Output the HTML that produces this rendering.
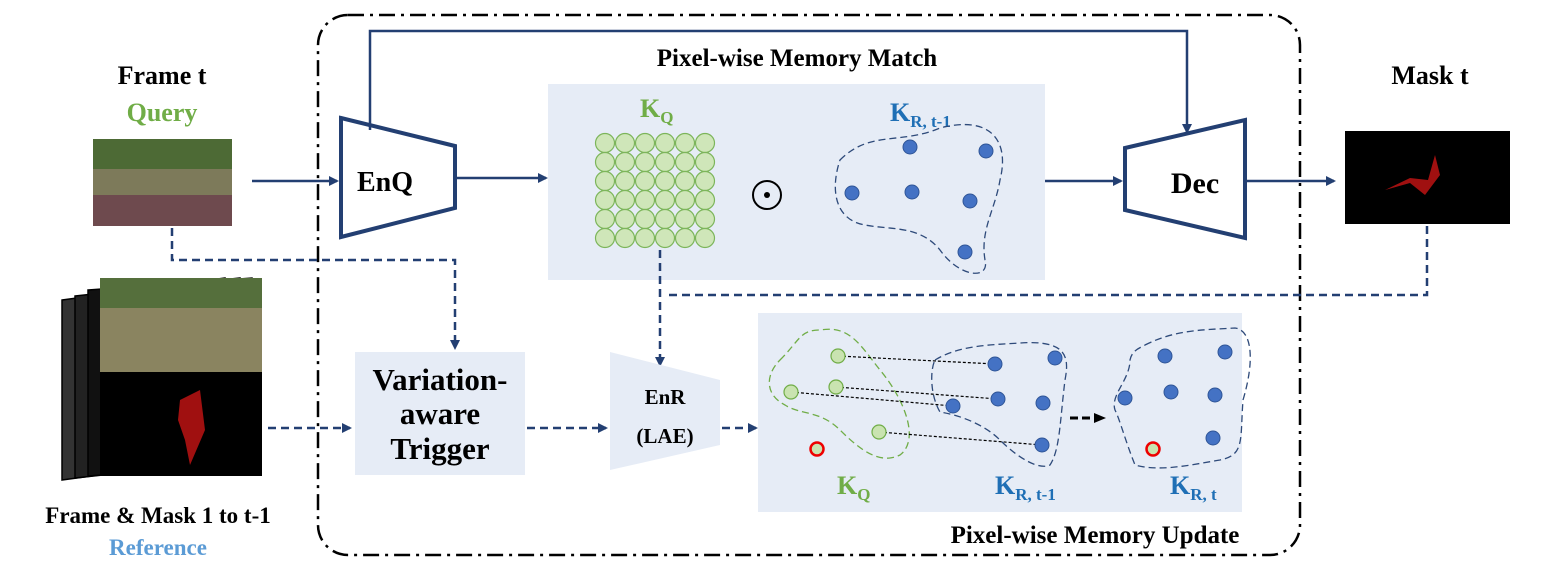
<!DOCTYPE html>
<html><head><meta charset="utf-8"><style>
body{margin:0;background:#fff}
text{font-family:"Liberation Serif",serif;font-weight:bold}
</style></head><body>
<svg width="1555" height="578" viewBox="0 0 1555 578" xmlns="http://www.w3.org/2000/svg">
<defs>
<marker id="a" markerWidth="10" markerHeight="10" refX="8" refY="5" orient="auto" markerUnits="userSpaceOnUse"><path d="M0,0 L10,5 L0,10 Z" fill="#233f72"/></marker>
<marker id="b" markerWidth="12" markerHeight="10" refX="10" refY="5" orient="auto" markerUnits="userSpaceOnUse"><path d="M0,0 L12,5 L0,10 Z" fill="#000"/></marker>
</defs>
<rect x="318" y="15" width="982" height="540" rx="30" fill="none" stroke="#000" stroke-width="2.5" stroke-dasharray="16,6,3,6"/>
<rect x="548" y="84" width="497" height="196" fill="#e6ecf6"/>
<text x="797" y="66" font-size="25" text-anchor="middle">Pixel-wise Memory Match</text>
<text x="640" y="117" font-size="26" fill="#70ad47">K<tspan font-size="17" dy="6">Q</tspan></text>
<circle cx="767" cy="195" r="14" fill="none" stroke="#000" stroke-width="2"/>
<circle cx="767" cy="195" r="3" fill="#000"/>
<text x="890" y="121" font-size="26" fill="#1f6fb5">K<tspan font-size="17" dy="6">R, t-1</tspan></text>
<path d="M840,160 C870,130 900,145 940,128 C990,115 1010,140 1000,180 C995,210 980,230 985,260 C990,280 960,278 940,250 C920,225 890,230 865,225 C835,220 830,190 840,160 Z" fill="none" stroke="#2e4a7a" stroke-width="1.3" stroke-dasharray="7,4"/>
<g fill="#4472c4" stroke="#2f5597" stroke-width="1">
<circle cx="910" cy="147" r="7"/><circle cx="986" cy="151" r="7"/><circle cx="852" cy="193" r="7"/><circle cx="912" cy="192" r="7"/><circle cx="970" cy="201" r="7"/><circle cx="965" cy="252" r="7"/>
</g>
<path d="M341,118 L455,146 L455,208 L341,237 Z" fill="#fff" stroke="#233f72" stroke-width="4"/>
<text x="385" y="191" font-size="28" text-anchor="middle">EnQ</text>
<path d="M1125,148 L1245,120 L1245,238 L1125,210 Z" fill="#fff" stroke="#233f72" stroke-width="4"/>
<text x="1195" y="193" font-size="30" text-anchor="middle">Dec</text>
<g stroke="#233f72" stroke-width="2.5" fill="none">
<polyline points="370,130 370,31 1187,31 1187,132" marker-end="url(#a)"/>
<line x1="252" y1="181" x2="337" y2="181" marker-end="url(#a)"/>
<line x1="457" y1="178" x2="546" y2="178" marker-end="url(#a)"/>
<line x1="1045" y1="181" x2="1121" y2="181" marker-end="url(#a)"/>
<line x1="1247" y1="181" x2="1334" y2="181" marker-end="url(#a)"/>
</g>
<g stroke="#233f72" stroke-width="2.5" fill="none" stroke-dasharray="8,5">
<polyline points="172,228 172,260 455,260 455,348" marker-end="url(#a)"/>
<polyline points="1427,226 1427,295 667,295"/>
<polyline points="660,250 660,365" marker-end="url(#a)"/>
<line x1="268" y1="428" x2="350" y2="428" marker-end="url(#a)"/>
<line x1="527" y1="428" x2="606" y2="428" marker-end="url(#a)"/>
<line x1="722" y1="428" x2="756" y2="428" marker-end="url(#a)"/>
</g>
<text x="162" y="84" font-size="26" text-anchor="middle">Frame t</text>
<text x="162" y="121" font-size="26" text-anchor="middle" fill="#70ad47">Query</text>
<rect x="93" y="139" width="139" height="87" fill="#7d7a5a"/>
<rect x="93" y="139" width="139" height="30" fill="#4d6a35"/>
<rect x="93" y="195" width="139" height="31" fill="#6e4a4e"/>
<text x="1430" y="84" font-size="26" text-anchor="middle">Mask t</text>
<rect x="1345" y="131" width="165" height="93" fill="#000"/>
<path d="M1385,190 L1410,183 L1425,195 L1440,175 L1435,155 L1428,180 L1410,178 Z" fill="#a01010"/>
<g stroke="#000" stroke-width="1.5">
<path d="M62,300 L225,278 L225,458 L62,480 Z" fill="#333"/>
<path d="M75,296 L240,278 L240,460 L75,478 Z" fill="#222"/>
<path d="M88,290 L252,278 L252,464 L88,476 Z" fill="#111"/>
</g>
<rect x="100" y="278" width="162" height="94" fill="#8a8460"/>
<rect x="100" y="278" width="162" height="30" fill="#556f3c"/>
<rect x="100" y="372" width="162" height="104" fill="#000"/>
<path d="M180,400 L200,390 L205,430 L190,465 L185,440 L178,420 Z" fill="#a01010"/>
<text x="158" y="523" font-size="23" text-anchor="middle">Frame &amp; Mask 1 to t-1</text>
<text x="158" y="555" font-size="23" text-anchor="middle" fill="#5b9bd5">Reference</text>
<rect x="355" y="352" width="170" height="123" fill="#e6ecf6"/>
<text x="440" y="390" font-size="31" text-anchor="middle">Variation-</text>
<text x="440" y="424" font-size="31" text-anchor="middle">aware</text>
<text x="440" y="459" font-size="31" text-anchor="middle">Trigger</text>
<path d="M610,352 L720,380 L720,445 L610,470 Z" fill="#e6ecf6"/>
<text x="665" y="404" font-size="21" text-anchor="middle">EnR</text>
<text x="665" y="443" font-size="21" text-anchor="middle">(LAE)</text>
<rect x="758" y="313" width="484" height="199" fill="#e6ecf6"/>
<text x="1095" y="543" font-size="25" text-anchor="middle">Pixel-wise Memory Update</text>
<path d="M780,360 C800,340 800,330 820,330 C850,325 860,345 880,370 C905,400 920,440 900,455 C880,465 860,450 840,430 C820,410 800,415 785,405 C765,395 765,375 780,360 Z" fill="none" stroke="#70ad47" stroke-width="1.3" stroke-dasharray="7,4"/>
<path d="M935,360 C960,345 990,345 1020,343 C1065,340 1070,355 1065,380 C1060,420 1060,450 1050,465 C1040,470 1020,460 1000,440 C985,425 960,415 940,412 C930,395 930,370 935,360 Z" fill="none" stroke="#2e4a7a" stroke-width="1.3" stroke-dasharray="7,4"/>
<path d="M1145,345 C1175,330 1200,330 1235,328 C1252,330 1255,360 1243,400 C1240,440 1245,455 1220,460 C1190,465 1160,472 1135,465 C1125,440 1120,420 1115,410 C1110,395 1130,380 1130,360 C1132,350 1140,348 1145,345 Z" fill="none" stroke="#2e4a7a" stroke-width="1.3" stroke-dasharray="7,4"/>
<g stroke="#000" stroke-width="1.2" stroke-dasharray="3,2">
<line x1="838" y1="356" x2="995" y2="364"/>
<line x1="791" y1="392" x2="953" y2="406"/>
<line x1="836" y1="387" x2="998" y2="399"/>
<line x1="879" y1="432" x2="1042" y2="445"/>
</g>
<g fill="#c9e3b0" stroke="#70ad47" stroke-width="1.2">
<circle cx="838" cy="356" r="7"/><circle cx="791" cy="392" r="7"/><circle cx="836" cy="387" r="7"/><circle cx="879" cy="432" r="7"/>
</g>
<g fill="#c9e3b0" stroke="#e00" stroke-width="2.5">
<circle cx="817" cy="449" r="6.5"/><circle cx="1153" cy="449" r="6.5"/>
</g>
<g fill="#4472c4" stroke="#2f5597" stroke-width="1">
<circle cx="995" cy="364" r="7"/><circle cx="1055" cy="358" r="7"/><circle cx="998" cy="399" r="7"/><circle cx="1043" cy="403" r="7"/><circle cx="953" cy="406" r="7"/><circle cx="1042" cy="445" r="7"/>
<circle cx="1165" cy="356" r="7"/><circle cx="1225" cy="352" r="7"/><circle cx="1125" cy="398" r="7"/><circle cx="1171" cy="392" r="7"/><circle cx="1215" cy="395" r="7"/><circle cx="1213" cy="438" r="7"/>
</g>
<line x1="1070" y1="418" x2="1104" y2="418" stroke="#000" stroke-width="3" stroke-dasharray="8,4" marker-end="url(#b)"/>
<text x="837" y="494" font-size="26" fill="#70ad47">K<tspan font-size="17" dy="6">Q</tspan></text>
<text x="995" y="494" font-size="26" fill="#1f6fb5">K<tspan font-size="17" dy="6">R, t-1</tspan></text>
<text x="1170" y="494" font-size="26" fill="#1f6fb5">K<tspan font-size="17" dy="6">R, t</tspan></text>
<g fill="#cfe6b9" stroke="#7cb55a" stroke-width="1.2">
<circle cx="605" cy="143" r="9.5"/><circle cx="625" cy="143" r="9.5"/><circle cx="645" cy="143" r="9.5"/><circle cx="665" cy="143" r="9.5"/><circle cx="685" cy="143" r="9.5"/><circle cx="705" cy="143" r="9.5"/>
<circle cx="605" cy="162" r="9.5"/><circle cx="625" cy="162" r="9.5"/><circle cx="645" cy="162" r="9.5"/><circle cx="665" cy="162" r="9.5"/><circle cx="685" cy="162" r="9.5"/><circle cx="705" cy="162" r="9.5"/>
<circle cx="605" cy="181" r="9.5"/><circle cx="625" cy="181" r="9.5"/><circle cx="645" cy="181" r="9.5"/><circle cx="665" cy="181" r="9.5"/><circle cx="685" cy="181" r="9.5"/><circle cx="705" cy="181" r="9.5"/>
<circle cx="605" cy="200" r="9.5"/><circle cx="625" cy="200" r="9.5"/><circle cx="645" cy="200" r="9.5"/><circle cx="665" cy="200" r="9.5"/><circle cx="685" cy="200" r="9.5"/><circle cx="705" cy="200" r="9.5"/>
<circle cx="605" cy="219" r="9.5"/><circle cx="625" cy="219" r="9.5"/><circle cx="645" cy="219" r="9.5"/><circle cx="665" cy="219" r="9.5"/><circle cx="685" cy="219" r="9.5"/><circle cx="705" cy="219" r="9.5"/>
<circle cx="605" cy="238" r="9.5"/><circle cx="625" cy="238" r="9.5"/><circle cx="645" cy="238" r="9.5"/><circle cx="665" cy="238" r="9.5"/><circle cx="685" cy="238" r="9.5"/><circle cx="705" cy="238" r="9.5"/>
</g>
</svg>
</body></html>
